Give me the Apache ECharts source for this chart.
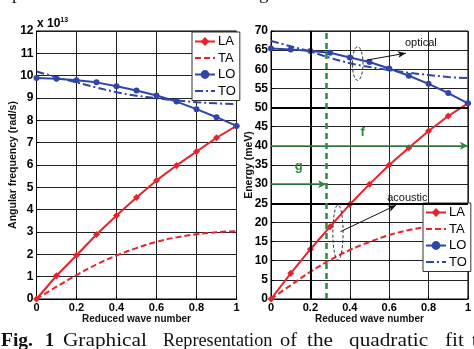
<!DOCTYPE html>
<html>
<head>
<meta charset="utf-8">
<script src="https://cdn.jsdelivr.net/npm/echarts@6/dist/echarts.min.js"></script>
<style>html,body{margin:0;padding:0;background:#fff}#c{width:474px;height:349px}</style>
</head>
<body>
<div id="c"></div>
<script>
// ---- data ----
const waveNumbers = [0, 0.1, 0.2, 0.3, 0.4, 0.5, 0.6, 0.7, 0.8, 0.9, 1.0];
// left panel: angular frequency (x 10^13 rad/s)
const laFreq = [0, 1.04, 1.96, 2.89, 3.74, 4.54, 5.31, 5.98, 6.6, 7.22, 7.75];
const taFreq = [0, 0.55, 1.07, 1.55, 1.95, 2.28, 2.56, 2.76, 2.9, 2.99, 3.04];
const loFreq = [9.9, 9.86, 9.79, 9.7, 9.53, 9.34, 9.11, 8.84, 8.5, 8.14, 7.75];
const toFreq = [10.19, 9.93, 9.7, 9.47, 9.26, 9.1, 8.99, 8.89, 8.81, 8.76, 8.72];
// right panel: energy (meV)
const laEnergy = [0, 6.7, 13.0, 18.9, 24.7, 30.0, 35.0, 39.5, 43.9, 47.8, 51.1];
const taEnergy = [0, 3.6, 7.1, 10.2, 12.8, 14.9, 16.7, 18.0, 18.9, 19.6, 20.1];
const loEnergy = [65.4, 65.2, 64.75, 64.3, 63.1, 61.9, 60.2, 58.3, 56.2, 53.8, 51.1];
const toEnergy = [67.4, 66.0, 64.6, 63.0, 61.6, 60.6, 59.8, 59.1, 58.5, 58.0, 57.7];
const seriesNames = ['LA', 'TA', 'LO', 'TO'];
// annotations (data coordinates of right panel)
const markerK = 0.28;      // green vertical line
const levelF = 40;         // green arrow f
const levelG = 30;         // green arrow g
const opticalArrow = [[0.485, 62.4], [0.685, 64.2]];
const acousticArrow = [[0.353, 17.6], [0.635, 24.5]];
const opticalEllipse = { c: [0.44, 61.5], rx: 0.027, ry: 4.4 };
const acousticEllipse = { c: [0.34, 17.35], rx: 0.026, ry: 7.2 };
const captionWords = ['Fig.', '1', 'Graphical', 'Representation', 'of', 'the', 'quadratic', 'fit', 'to'];

// ---- styles ----
const RED = '#e8222b', BLUE = '#2f46a8', GREEN = '#2e8a3e';
const tickFont = { fontFamily: 'Liberation Sans, Arial', fontWeight: 'bold', color: '#000' };

function pairs(vals) { return waveNumbers.map((x, i) => [x, vals[i]]); }

function mkSeries(gi, vals) {
  const [la, ta, lo, to] = vals;
  const base = { type: 'line', xAxisIndex: gi, yAxisIndex: gi, animation: false, silent: true };
  return [
    Object.assign({}, base, { name: 'TA', data: pairs(ta), smooth: 0.4, showSymbol: false, symbol: 'none',
      lineStyle: { color: RED, width: 2, type: [6, 3] }, itemStyle: { color: RED }, z: 3 }),
    Object.assign({}, base, { name: 'TO', data: pairs(to), smooth: 0.4, showSymbol: false, symbol: 'none',
      lineStyle: { color: BLUE, width: 2, type: [8, 3, 2, 3] }, itemStyle: { color: BLUE }, z: 3 }),
    Object.assign({}, base, { name: 'LA', data: pairs(la), symbol: 'diamond', symbolSize: 7,
      lineStyle: { color: RED, width: 2 }, itemStyle: { color: RED }, z: 4 }),
    Object.assign({}, base, { name: 'LO', data: pairs(lo), symbol: 'circle', symbolSize: 6,
      lineStyle: { color: BLUE, width: 2 }, itemStyle: { color: BLUE }, z: 4 })
  ];
}

function xAxis(gi) {
  return {
    gridIndex: gi, type: 'value', min: 0, max: 1, interval: 0.2,
    name: 'Reduced wave number', nameLocation: 'middle', nameGap: 15, nameMoveOverlap: false,
    nameTextStyle: { fontFamily: 'Liberation Sans, Arial', fontWeight: 'bold', fontSize: 10, color: '#111' },
    axisLine: { show: true, lineStyle: { color: '#000', width: 1 } },
    axisTick: { show: true, inside: true, length: 3, lineStyle: { color: '#000' } },
    axisLabel: Object.assign({ fontSize: 11, margin: 3, formatter: v => String(+v.toFixed(1)) }, tickFont),
    splitLine: { show: true, lineStyle: { color: '#222', width: 1 } }
  };
}
function yAxis(gi, max, interval, name, gap) {
  return {
    gridIndex: gi, type: 'value', min: 0, max: max, interval: interval,
    name: name, nameLocation: 'middle', nameGap: gap, nameRotate: 90, nameMoveOverlap: false,
    nameTextStyle: { fontFamily: 'Liberation Sans, Arial', fontWeight: 'bold', fontSize: 10.5, color: '#111' },
    axisLine: { show: true, lineStyle: { color: '#000', width: 1 } },
    axisTick: { show: true, inside: true, length: 3, lineStyle: { color: '#000' } },
    axisLabel: Object.assign({ fontSize: 12, margin: 3 }, tickFont),
    splitLine: { show: true, lineStyle: { color: '#222', width: 1 } }
  };
}
function legend(left, top) {
  return {
    data: seriesNames.map(n => (n === 'TA' || n === 'TO') ? { name: n, itemStyle: { opacity: 0 } } : { name: n }),
    orient: 'vertical', left: left, top: top,
    backgroundColor: '#fff', borderColor: '#333', borderWidth: 1, borderRadius: 0,
    padding: [3, 4, 3, 2], itemGap: 3.5, itemWidth: 20, itemHeight: 11,
    textStyle: { fontFamily: 'Liberation Sans, Arial', fontSize: 13, color: '#000', padding: [0, 0, 0, -2] },
    selectedMode: false
  };
}

const chart = echarts.init(document.getElementById('c'), null, { renderer: 'canvas' });
const annotationSeries = {
  type: 'line', xAxisIndex: 1, yAxisIndex: 1, data: [], silent: true, animation: false,
  markLine: {
    silent: true, animation: false, symbol: ['none', 'none'], label: { show: false },
    data: [
      { xAxis: 0.2, lineStyle: { color: '#000', width: 2, type: 'solid' } },
      { yAxis: 50, lineStyle: { color: '#000', width: 2, type: 'solid' } },
      { yAxis: 25, lineStyle: { color: '#000', width: 2, type: 'solid' } },
      { xAxis: markerK, lineStyle: { color: GREEN, width: 2.5, type: [6, 4] } },
      [{ coord: [0, levelF], symbol: 'none' }, { coord: [1, levelF], symbol: 'arrow', symbolSize: [6, 8], lineStyle: { color: GREEN, width: 1.5, type: 'solid' } }],
      [{ coord: [0, levelG], symbol: 'none' }, { coord: [markerK, levelG], symbol: 'arrow', symbolSize: [6, 8], lineStyle: { color: GREEN, width: 1.5, type: 'solid' } }],
      [{ coord: opticalArrow[0], symbol: 'none' }, { coord: opticalArrow[1], symbol: 'arrow', symbolSize: [5, 8], lineStyle: { color: '#111', width: 1, type: 'solid' } }],
      [{ coord: acousticArrow[0], symbol: 'none' }, { coord: acousticArrow[1], symbol: 'arrow', symbolSize: [5, 8], lineStyle: { color: '#111', width: 1, type: 'solid' } }]
    ]
  }
};

chart.setOption({
  animation: false,
  backgroundColor: '#fff',
  grid: [
    { left: 36.5, top: 31, width: 200, height: 268, show: true, borderColor: '#000', borderWidth: 1, backgroundColor: '#fff' },
    { left: 271, top: 31, width: 200, height: 268, show: true, borderColor: '#000', borderWidth: 1, backgroundColor: '#fff' }
  ],
  xAxis: [xAxis(0), xAxis(1)],
  yAxis: [yAxis(0, 12, 1, 'Angular frequency (rad/s)', 18), yAxis(1, 70, 5, 'Energy (meV)', 16)],
  legend: [legend(192, 32), legend(423, 203)],
  series: [annotationSeries]
    .concat(mkSeries(0, [laFreq, taFreq, loFreq, toFreq]))
    .concat(mkSeries(1, [laEnergy, taEnergy, loEnergy, toEnergy]))
});

// graphics placed through the right panel's scales
const toPx = p => chart.convertToPixel({ xAxisIndex: 1, yAxisIndex: 1 }, p);
function ellipse(e) {
  const c = toPx(e.c);
  const rx = Math.abs(toPx([e.c[0] + e.rx, e.c[1]])[0] - c[0]);
  const ry = Math.abs(toPx([e.c[0], e.c[1] + e.ry])[1] - c[1]);
  return { type: 'ellipse', shape: { cx: c[0], cy: c[1], rx: rx, ry: ry }, z: 100,
    style: { fill: 'none', stroke: '#333', lineWidth: 1, lineDash: [3, 2] } };
}
function label(text, p, font, color) {
  const q = toPx(p);
  return { type: 'text', x: q[0], y: q[1], z: 100,
    style: { text: text, font: font, fill: color, textAlign: 'left', textVerticalAlign: 'middle' } };
}
// caption layout: word spans [left, right] in pixels (justified text)
const captionSpans = [[1, 33], [45, 52], [63, 153], [163, 272], [280, 297], [307, 337], [349, 434], [445, 464], [472, 481]];
const serif = '19px "Liberation Serif", "DejaVu Serif", serif';
const measureCtx = document.createElement('canvas').getContext('2d');
const graphics = [
  ellipse(opticalEllipse), ellipse(acousticEllipse),
  label('optical', [0.68, 66.9], '11px "Liberation Sans", Arial', '#111'),
  label('acoustic', [0.59, 26.4], '11px "Liberation Sans", Arial', '#111'),
  label('f', [0.455, 43.5], 'bold 13px "Liberation Sans", Arial', GREEN),
  label('g', [0.12, 34.5], 'bold 13px "Liberation Sans", Arial', GREEN),
  { type: 'text', x: 37, y: 24, z: 100, style: { text: '{a|x 10}{b|13}', textVerticalAlign: 'middle',
      rich: { a: { font: 'bold 12px "Liberation Sans", Arial', fill: '#000' }, b: { font: 'bold 7px "Liberation Sans", Arial', fill: '#000', verticalAlign: 'top', padding: [0, 0, 8, 0] } } } },
  { type: 'text', x: 12, y: -6, style: { text: 'p', font: serif, fill: '#222', textVerticalAlign: 'middle' } },
  { type: 'text', x: 259, y: -6, style: { text: 'g', font: serif, fill: '#222', textVerticalAlign: 'middle' } }
];
captionWords.forEach((w, i) => {
  const font = (i < 2 ? 'bold ' : '') + serif;
  measureCtx.font = font;
  const mw = measureCtx.measureText(w).width || 1;
  const span = captionSpans[i];
  const sx = Math.max(0.96, Math.min(1.12, (span[1] - span[0]) / mw));
  graphics.push({ type: 'text', x: span[0], y: 341, z: 100, scaleX: sx,
    style: { text: w, font: font, fill: '#111', textAlign: 'left', textVerticalAlign: 'middle' } });
});
chart.setOption({ graphic: graphics });
</script>
</body>
</html>
